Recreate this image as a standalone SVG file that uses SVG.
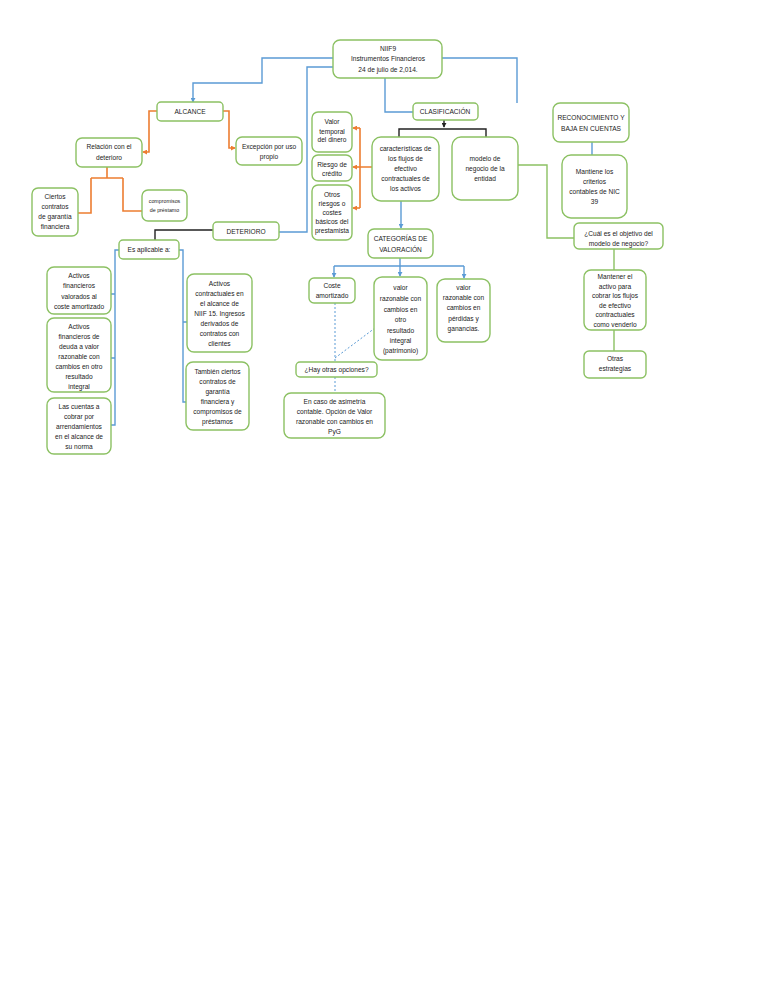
<svg xmlns="http://www.w3.org/2000/svg" width="768" height="1006" viewBox="0 0 768 1006">
<style>
.n{fill:#fff;stroke:#8CC163;stroke-width:1.4}
.t{font-family:"Liberation Sans",Arial,sans-serif;font-size:6.6px;fill:#222;text-anchor:middle}
.s{font-size:5.3px}
.c{fill:none;stroke-width:1.4}
.b{stroke:#5B9BD5}
.o{stroke:#ED7D31;stroke-width:1.6}
.k{stroke:#222}
.g{stroke:#8CC163}
.d{stroke:#5B9BD5;stroke-width:1;stroke-dasharray:2,2}
</style>
<defs>
<marker id="ab" viewBox="0 0 6 6" refX="5" refY="3" markerWidth="5" markerHeight="5" orient="auto" markerUnits="userSpaceOnUse"><path d="M0,0L6,3L0,6z" fill="#5B9BD5"/></marker>
<marker id="ao" viewBox="0 0 6 6" refX="5" refY="3" markerWidth="5" markerHeight="5" orient="auto" markerUnits="userSpaceOnUse"><path d="M0,0L6,3L0,6z" fill="#ED7D31"/></marker>
<marker id="ak" viewBox="0 0 6 6" refX="5" refY="3" markerWidth="5" markerHeight="5" orient="auto" markerUnits="userSpaceOnUse"><path d="M0,0L6,3L0,6z" fill="#222"/></marker>
</defs>
<rect width="768" height="1006" fill="#fff"/>
<g id="connectors">
<path class="c b" d="M333,58H262V83H193V102" marker-end="url(#ab)"/>
<path class="c b" d="M333,67H307V232H279"/>
<path class="c b" d="M442,58H517V103"/>
<path class="c b" d="M385,78V112H413"/>
<path class="c b" d="M592,142V155"/>
<path class="c b" d="M401,201V228" marker-end="url(#ab)"/>
<path class="c b" d="M400,258V266M334,266H464"/>
<path class="c b" d="M334,266V277" marker-end="url(#ab)"/>
<path class="c b" d="M400,266V276" marker-end="url(#ab)"/>
<path class="c b" d="M464,266V278" marker-end="url(#ab)"/>
<path class="c b" d="M119,250H115V425H111M115,294H111M115,358H111"/>
<path class="c b" d="M179,250H183V402H186M183,322H187"/>
<path class="c o" d="M157,111H149V152H143" marker-end="url(#ao)"/>
<path class="c o" d="M223,111H229V148H235" marker-end="url(#ao)"/>
<path class="c o" d="M107,167V178M91,178H123M91,178V213H78M123,178V211H142"/>
<path class="c o" d="M372,167H360M360,128V208"/>
<path class="c o" d="M360,128H353" marker-end="url(#ao)"/>
<path class="c o" d="M360,167H353" marker-end="url(#ao)"/>
<path class="c o" d="M360,208H353" marker-end="url(#ao)"/>
<path class="c k" d="M444,120V127" marker-end="url(#ak)"/>
<path class="c k" d="M399,137V129H486V137"/>
<path class="c k" d="M213,230H155V240"/>
<path class="c g" d="M518,165H547V238H574"/>
<path class="c g" d="M614,249V270M614,330V351"/>
<path class="c d" d="M335,303V362M375,328L335,358M335,377V393"/>
</g>
<g id="niif9"><rect class="n" x="333" y="40" width="109" height="38" rx="7"/><text class="t" x="388"><tspan x="388" y="50.5">NIIF9</tspan><tspan x="388" y="60.5">Instrumentos Financieros</tspan><tspan x="388" y="71.5">24 de julio de 2,014.</tspan></text></g>
<g id="alcance"><rect class="n" x="157" y="102" width="66" height="19" rx="4"/><text class="t" x="190" y="114">ALCANCE</text></g>
<g id="clasificacion"><rect class="n" x="413" y="103" width="65" height="17" rx="4"/><text class="t" x="445" y="114">CLASIFICACIÓN</text></g>
<g id="reconocimiento"><rect class="n" x="553" y="103" width="76" height="39" rx="7"/><text class="t"><tspan x="591" y="119.5">RECONOCIMIENTO Y</tspan><tspan x="591" y="130.5">BAJA EN CUENTAS</tspan></text></g>
<g id="relacion"><rect class="n" x="76" y="138" width="66" height="29" rx="6"/><text class="t"><tspan x="109" y="149">Relación con el</tspan><tspan x="109" y="160">deterioro</tspan></text></g>
<g id="excepcion"><rect class="n" x="236" y="137" width="66" height="28" rx="6"/><text class="t"><tspan x="269" y="148.5">Excepción por uso</tspan><tspan x="269" y="158.5">propio</tspan></text></g>
<g id="ciertos"><rect class="n" x="32" y="188" width="46" height="48" rx="6"/><text class="t"><tspan x="55" y="198.5">Ciertos</tspan><tspan x="55" y="208.5">contratos</tspan><tspan x="55" y="218.5">de garantía</tspan><tspan x="55" y="228.5">financiera</tspan></text></g>
<g id="compromisos"><rect class="n" x="142" y="190" width="45" height="31" rx="6"/><text class="t s"><tspan x="164.5" y="203">compromisos</tspan><tspan x="164.5" y="211.5">de préstamo</tspan></text></g>
<g id="deterioro"><rect class="n" x="213" y="222" width="66" height="18" rx="4"/><text class="t" x="246" y="233.5">DETERIORO</text></g>
<g id="esaplicable"><rect class="n" x="119" y="240" width="60" height="19" rx="4"/><text class="t" x="149" y="252">Es aplicable a:</text></g>
<g id="activos-coste"><rect class="n" x="47" y="267" width="64" height="47" rx="7"/><text class="t"><tspan x="79" y="277.5">Activos</tspan><tspan x="79" y="287.5">financieros</tspan><tspan x="79" y="298.5">valorados al</tspan><tspan x="79" y="308.5">coste amortizado</tspan></text></g>
<g id="activos-deuda"><rect class="n" x="47" y="318" width="64" height="74" rx="7"/><text class="t"><tspan x="79" y="328.5">Activos</tspan><tspan x="79" y="338.5">financieros de</tspan><tspan x="79" y="348.5">deuda a valor</tspan><tspan x="79" y="358.5">razonable con</tspan><tspan x="79" y="368.5">cambios en otro</tspan><tspan x="79" y="378.5">resultado</tspan><tspan x="79" y="388.5">integral</tspan></text></g>
<g id="cuentas"><rect class="n" x="47" y="398" width="64" height="56" rx="7"/><text class="t"><tspan x="79" y="409">Las cuentas a</tspan><tspan x="79" y="419">cobrar por</tspan><tspan x="79" y="429">arrendamientos</tspan><tspan x="79" y="439">en el alcance de</tspan><tspan x="79" y="449">su norma</tspan></text></g>
<g id="contractuales"><rect class="n" x="187" y="274" width="65" height="78" rx="7"/><text class="t"><tspan x="219.5" y="286">Activos</tspan><tspan x="219.5" y="296">contractuales en</tspan><tspan x="219.5" y="306">el alcance de</tspan><tspan x="219.5" y="316">NIIF 15. Ingresos</tspan><tspan x="219.5" y="326">derivados de</tspan><tspan x="219.5" y="336">contratos con</tspan><tspan x="219.5" y="346">clientes</tspan></text></g>
<g id="tambien"><rect class="n" x="186" y="362" width="63" height="68" rx="7"/><text class="t"><tspan x="217.5" y="374">También ciertos</tspan><tspan x="217.5" y="384">contratos de</tspan><tspan x="217.5" y="394">garantía</tspan><tspan x="217.5" y="404">financiera y</tspan><tspan x="217.5" y="414">compromisos de</tspan><tspan x="217.5" y="424">préstamos</tspan></text></g>
<g id="valor-temporal"><rect class="n" x="312" y="112" width="40" height="40" rx="6"/><text class="t"><tspan x="332" y="124">Valor</tspan><tspan x="332" y="133.5">temporal</tspan><tspan x="332" y="142">del dinero</tspan></text></g>
<g id="riesgo"><rect class="n" x="312" y="155" width="40" height="26" rx="6"/><text class="t"><tspan x="332" y="166.5">Riesgo de</tspan><tspan x="332" y="175.5">crédito</tspan></text></g>
<g id="otros"><rect class="n" x="312" y="185" width="40" height="55" rx="6"/><text class="t"><tspan x="332" y="197">Otros</tspan><tspan x="332" y="206">riesgos o</tspan><tspan x="332" y="215">costes</tspan><tspan x="332" y="224">básicos del</tspan><tspan x="332" y="233">prestamista</tspan></text></g>
<g id="caracteristicas"><rect class="n" x="372" y="137" width="67" height="64" rx="9"/><text class="t"><tspan x="405.5" y="150.5">características de</tspan><tspan x="405.5" y="160.5">los flujos de</tspan><tspan x="405.5" y="170.5">efectivo</tspan><tspan x="405.5" y="180.5">contractuales de</tspan><tspan x="405.5" y="190.5">los activos</tspan></text></g>
<g id="modelo"><rect class="n" x="452" y="137" width="66" height="63" rx="9"/><text class="t"><tspan x="485" y="161">modelo de</tspan><tspan x="485" y="171">negocio de la</tspan><tspan x="485" y="181">entidad</tspan></text></g>
<g id="mantiene"><rect class="n" x="562" y="155" width="65" height="63" rx="9"/><text class="t"><tspan x="594.5" y="173.5">Mantiene los</tspan><tspan x="594.5" y="183.5">criterios</tspan><tspan x="594.5" y="193.5">contables de NIC</tspan><tspan x="594.5" y="203.5">39</tspan></text></g>
<g id="cual"><rect class="n" x="574" y="223" width="89" height="26" rx="5"/><text class="t"><tspan x="618.5" y="235.5">¿Cuál es el objetivo del</tspan><tspan x="618.5" y="245.5">modelo de negocio?</tspan></text></g>
<g id="mantener"><rect class="n" x="584" y="270" width="62" height="60" rx="7"/><text class="t"><tspan x="615" y="279">Mantener el</tspan><tspan x="615" y="288.5">activo para</tspan><tspan x="615" y="298">cobrar los flujos</tspan><tspan x="615" y="307.5">de efectivo</tspan><tspan x="615" y="317">contractuales</tspan><tspan x="615" y="326.5">como venderlo</tspan></text></g>
<g id="otras"><rect class="n" x="584" y="351" width="62" height="27" rx="5"/><text class="t"><tspan x="615" y="361">Otras</tspan><tspan x="615" y="371">estrategias</tspan></text></g>
<g id="categorias"><rect class="n" x="368" y="229" width="65" height="29" rx="6"/><text class="t"><tspan x="400.5" y="240.5">CATEGORÍAS DE</tspan><tspan x="400.5" y="251.5">VALORACIÓN</tspan></text></g>
<g id="coste"><rect class="n" x="309" y="278" width="46" height="25" rx="5"/><text class="t"><tspan x="332" y="288">Coste</tspan><tspan x="332" y="298">amortizado</tspan></text></g>
<g id="valor-ori"><rect class="n" x="374" y="277" width="53" height="83" rx="8"/><text class="t"><tspan x="400.5" y="290">valor</tspan><tspan x="400.5" y="301">razonable con</tspan><tspan x="400.5" y="311.5">cambios en</tspan><tspan x="400.5" y="322">otro</tspan><tspan x="400.5" y="332.5">resultado</tspan><tspan x="400.5" y="342.5">integral</tspan><tspan x="400.5" y="352.5">(patrimonio)</tspan></text></g>
<g id="valor-pyg"><rect class="n" x="437" y="279" width="53" height="63" rx="8"/><text class="t"><tspan x="463.5" y="289.5">valor</tspan><tspan x="463.5" y="299.5">razonable con</tspan><tspan x="463.5" y="309.5">cambios en</tspan><tspan x="463.5" y="320.5">pérdidas y</tspan><tspan x="463.5" y="330.5">ganancias.</tspan></text></g>
<g id="hay"><rect class="n" x="296" y="362" width="81" height="15" rx="4"/><text class="t" x="336.5" y="372">¿Hay otras opciones?</text></g>
<g id="encaso"><rect class="n" x="284" y="393" width="101" height="45" rx="7"/><text class="t"><tspan x="334.5" y="403.5">En caso de asimetría</tspan><tspan x="334.5" y="413.5">contable. Opción de Valor</tspan><tspan x="334.5" y="423.5">razonable con cambios en</tspan><tspan x="334.5" y="433.5">PyG</tspan></text></g>
</svg>
